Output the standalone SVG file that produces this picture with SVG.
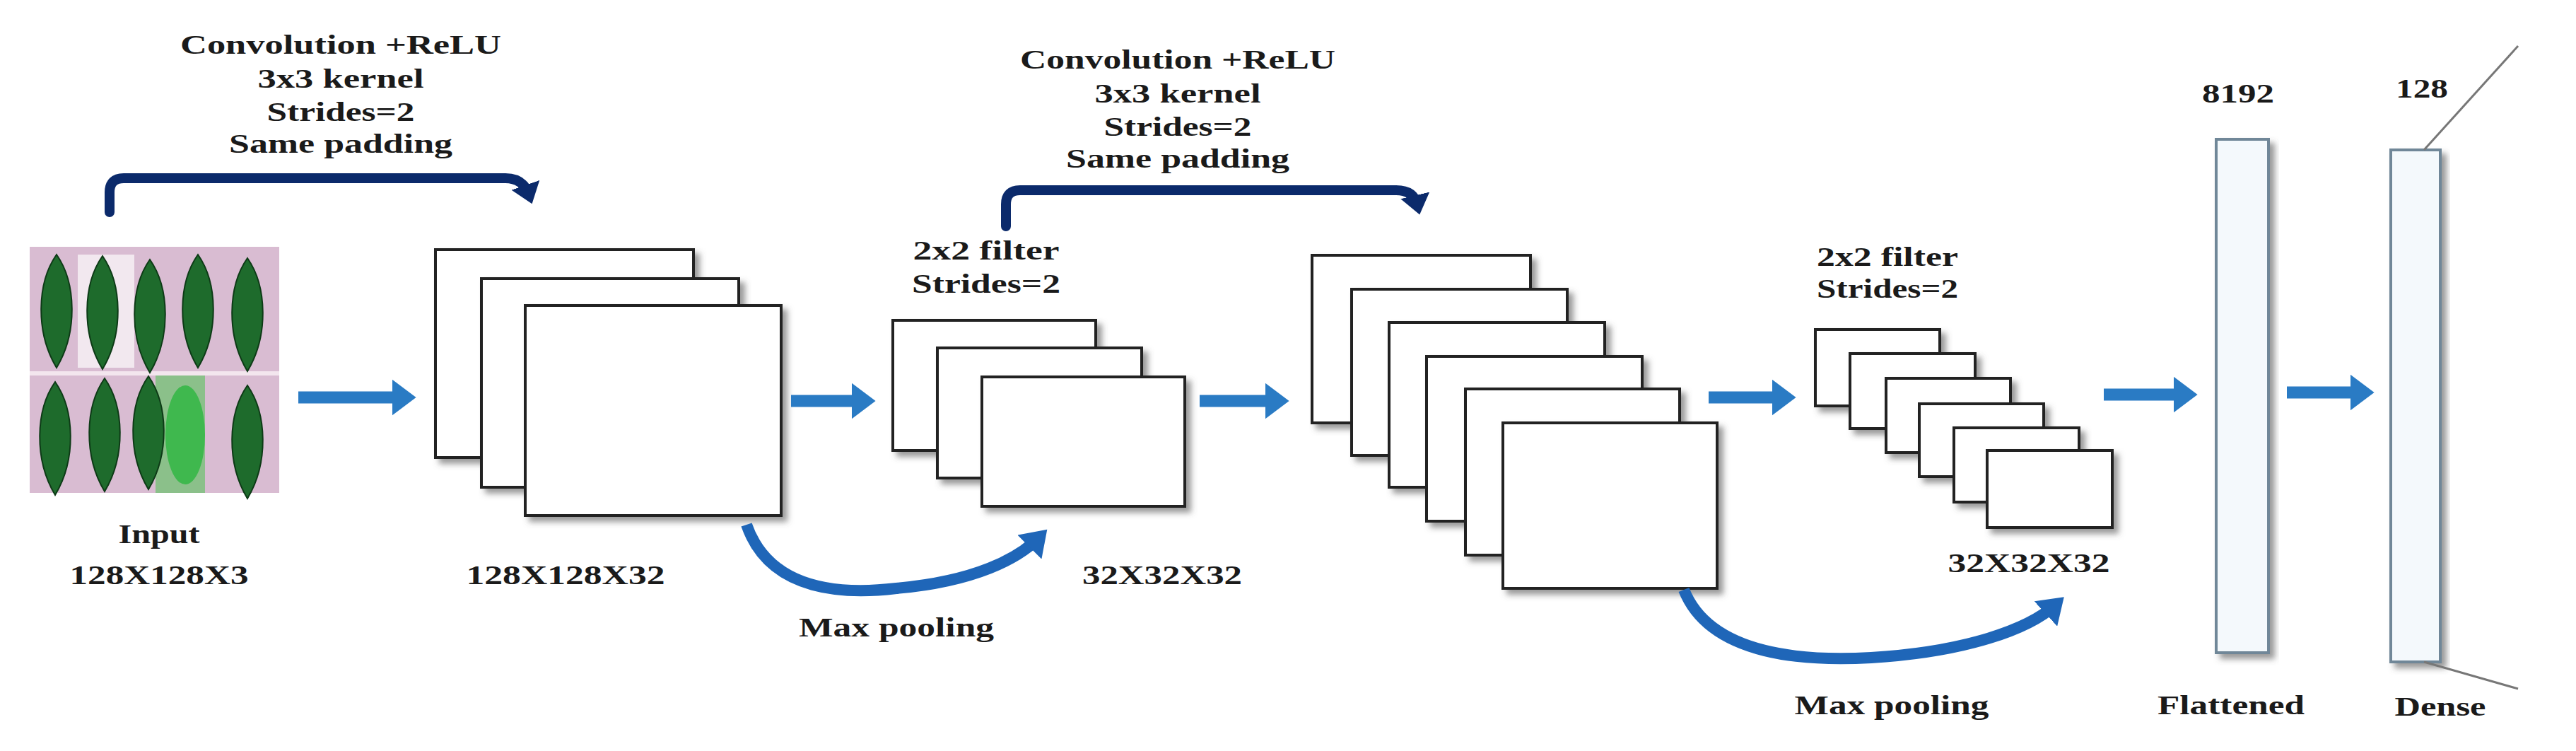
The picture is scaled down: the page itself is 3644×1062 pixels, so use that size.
<svg xmlns="http://www.w3.org/2000/svg" width="3644" height="1062" viewBox="0 0 3644 1062">
<style>
.t{font-family:"Liberation Serif","Times New Roman",serif;font-weight:bold;font-size:38px;fill:#1a1a1a;text-anchor:middle}
.fm{fill:#fff;stroke:#222;stroke-width:4;filter:url(#sh)}
.ar{stroke:#2a7bc4;stroke-width:17;fill:none;marker-end:url(#ah)}
.br{stroke:#0b2a6b;stroke-width:14;fill:none;stroke-linecap:round}
.cv{stroke:#1f66b8;stroke-width:16;fill:none;marker-end:url(#ch)}
.bar{fill:#f4f9fc;stroke:#6f8798;stroke-width:4;filter:url(#sh)}
.lf{fill:#1e6b2c;stroke:#0d3a16;stroke-width:2}
</style>
<defs>
<filter id="sh" x="-10%" y="-10%" width="130%" height="130%"><feDropShadow dx="7" dy="7" stdDeviation="4" flood-color="#555" flood-opacity="0.6"/></filter>
<marker id="ah" markerWidth="3" markerHeight="3" refX="1.2" refY="1.5" orient="auto"><path d="M0,0 L2,1.5 L0,3 Z" fill="#2a7bc4"/></marker>
<marker id="ch" markerWidth="3" markerHeight="3" refX="1.2" refY="1.5" orient="auto"><path d="M0,0 L2.2,1.5 L0,3 Z" fill="#1f66b8"/></marker>
<marker id="bh" markerWidth="3" markerHeight="3" refX="1" refY="1.5" orient="auto"><path d="M0,0 L2,1.5 L0,3 Z" fill="#0b2a6b"/></marker>
<path id="leaf" d="M0,-80 C28,-40 30,30 0,80 C-30,30 -28,-40 0,-80 Z"/>
</defs>
<rect width="3644" height="1062" fill="#fff"/>

<g id="input">
<rect x="42" y="349" width="353" height="348" fill="#d9bcd2"/>
<rect x="110" y="360" width="80" height="160" fill="#f2e8ef"/>
<rect x="220" y="525" width="70" height="172" fill="#8bc08a"/>
<rect x="42" y="525" width="353" height="6" fill="#f3e6ee"/>
<use href="#leaf" class="lf" x="80" y="440"/>
<use href="#leaf" class="lf" x="145" y="442" transform="rotate(0)"/>
<use href="#leaf" class="lf" x="212" y="447"/>
<use href="#leaf" class="lf" x="280" y="440"/>
<use href="#leaf" class="lf" x="350" y="445"/>
<use href="#leaf" class="lf" x="78" y="620"/>
<use href="#leaf" class="lf" x="148" y="615"/>
<use href="#leaf" class="lf" x="210" y="612" fill="#2a9a3c"/>
<ellipse cx="262" cy="615" rx="28" ry="70" fill="#3fb84e"/>
<use href="#leaf" class="lf" x="350" y="625" fill="#4a7a2a"/>
<text class="t" x="225" y="768" textLength="115" lengthAdjust="spacingAndGlyphs">Input</text>
<text class="t" x="225" y="826" textLength="253" lengthAdjust="spacingAndGlyphs">128X128X3</text>
</g>

<g id="conv1-label">
<text class="t" x="482" y="76" textLength="454" lengthAdjust="spacingAndGlyphs">Convolution +ReLU</text>
<text class="t" x="482" y="124" textLength="235" lengthAdjust="spacingAndGlyphs">3x3 kernel</text>
<text class="t" x="482" y="171" textLength="209" lengthAdjust="spacingAndGlyphs">Strides=2</text>
<text class="t" x="482" y="216" textLength="316" lengthAdjust="spacingAndGlyphs">Same padding</text>
</g>

<g id="stack1">
<rect class="fm" x="616" y="353" width="365" height="294"/>
<rect class="fm" x="681" y="394" width="364" height="295"/>
<rect class="fm" x="743" y="432" width="362" height="297"/>
<text class="t" x="800" y="826" textLength="281" lengthAdjust="spacingAndGlyphs">128X128X32</text>
</g>

<g id="pool1">
<rect class="fm" x="1263" y="453" width="287" height="184"/>
<rect class="fm" x="1326" y="492" width="289" height="184"/>
<rect class="fm" x="1389" y="533" width="287" height="183"/>
<text class="t" x="1395" y="367" textLength="207" lengthAdjust="spacingAndGlyphs">2x2 filter</text>
<text class="t" x="1395" y="414" textLength="210" lengthAdjust="spacingAndGlyphs">Strides=2</text>
<text class="t" x="1644" y="826" textLength="226" lengthAdjust="spacingAndGlyphs">32X32X32</text>
</g>

<g id="conv2-label">
<text class="t" x="1666" y="97" textLength="446" lengthAdjust="spacingAndGlyphs">Convolution +ReLU</text>
<text class="t" x="1666" y="145" textLength="235" lengthAdjust="spacingAndGlyphs">3x3 kernel</text>
<text class="t" x="1666" y="192" textLength="209" lengthAdjust="spacingAndGlyphs">Strides=2</text>
<text class="t" x="1666" y="237" textLength="316" lengthAdjust="spacingAndGlyphs">Same padding</text>
</g>

<g id="stack2">
<rect class="fm" x="1856" y="361" width="309" height="237"/>
<rect class="fm" x="1912" y="409" width="305" height="235"/>
<rect class="fm" x="1965" y="456" width="305" height="233"/>
<rect class="fm" x="2018" y="504" width="305" height="233"/>
<rect class="fm" x="2073" y="550" width="303" height="235"/>
<rect class="fm" x="2126" y="598" width="303" height="234"/>
</g>

<g id="pool2">
<rect class="fm" x="2568" y="466" width="176" height="108"/>
<rect class="fm" x="2617" y="500" width="177" height="106"/>
<rect class="fm" x="2668" y="535" width="176" height="105"/>
<rect class="fm" x="2715" y="571" width="176" height="103"/>
<rect class="fm" x="2764" y="605" width="177" height="105"/>
<rect class="fm" x="2811" y="637" width="177" height="109"/>
<text class="t" x="2670" y="376" textLength="200" lengthAdjust="spacingAndGlyphs">2x2 filter</text>
<text class="t" x="2670" y="421" textLength="200" lengthAdjust="spacingAndGlyphs">Strides=2</text>
<text class="t" x="2870" y="809" textLength="229" lengthAdjust="spacingAndGlyphs">32X32X32</text>
</g>

<g id="flattened">
<rect class="bar" x="3135" y="197" width="74" height="726"/>
<text class="t" x="3166" y="145" textLength="102" lengthAdjust="spacingAndGlyphs">8192</text>
<text class="t" x="3156" y="1010" textLength="208" lengthAdjust="spacingAndGlyphs">Flattened</text>
</g>

<g id="dense">
<rect class="bar" x="3382" y="212" width="70" height="724"/>
<text class="t" x="3426" y="138" textLength="74" lengthAdjust="spacingAndGlyphs">128</text>
<text class="t" x="3452" y="1012" textLength="129" lengthAdjust="spacingAndGlyphs">Dense</text>
</g>

<g id="pool-labels">
<text class="t" x="1268" y="900" textLength="276" lengthAdjust="spacingAndGlyphs">Max pooling</text>
<text class="t" x="2676" y="1010" textLength="275" lengthAdjust="spacingAndGlyphs">Max pooling</text>
</g>

<g id="connectors">
<path class="br" d="M155,300 V272 Q155,252 175,252 H715 Q740,252 748,275" marker-end="url(#bh)"/>
<path class="br" d="M1423,320 V289 Q1423,269 1443,269 H1975 Q2000,269 2005,290" marker-end="url(#bh)"/>
<line class="ar" x1="422" y1="562" x2="575" y2="562"/>
<line class="ar" x1="1119" y1="567" x2="1225" y2="567"/>
<line class="ar" x1="1697" y1="567" x2="1810" y2="567"/>
<line class="ar" x1="2417" y1="562" x2="2527" y2="562"/>
<line class="ar" x1="2976" y1="558" x2="3095" y2="558"/>
<line class="ar" x1="3235" y1="555" x2="3345" y2="555"/>
<path class="cv" d="M1056,742 C1090,840 1200,840 1268,832 C1380,822 1440,790 1470,760"/>
<path class="cv" d="M2382,834 C2420,930 2560,935 2647,930 C2780,922 2870,890 2908,855"/>
<line x1="3429" y1="212" x2="3562" y2="65" stroke="#777" stroke-width="3"/>
<line x1="3429" y1="936" x2="3562" y2="974" stroke="#777" stroke-width="3"/>
</g>
</svg>
